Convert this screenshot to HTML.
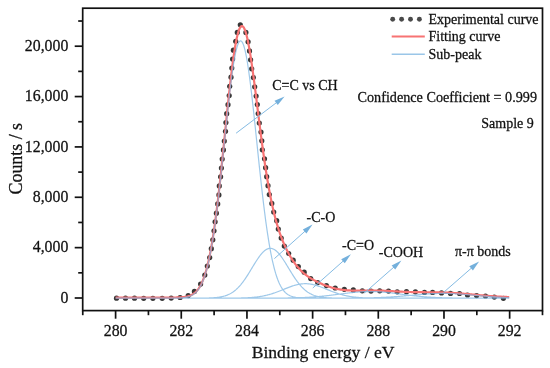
<!DOCTYPE html>
<html><head><meta charset="utf-8"><title>XPS C1s</title><style>html,body{margin:0;padding:0;background:#fff;width:550px;height:368px;overflow:hidden}</style></head><body>
<svg width="550" height="368" viewBox="0 0 550 368" style="display:block">
<rect width="550" height="368" fill="#fff"/>
<g fill="#383838"><circle cx="116.5" cy="298.2" r="2.6"/><circle cx="125.5" cy="298.2" r="2.6"/><circle cx="134.5" cy="298.2" r="2.6"/><circle cx="143.7" cy="298.3" r="2.6"/><circle cx="152.9" cy="298.3" r="2.6"/><circle cx="162.2" cy="298.3" r="2.6"/><circle cx="171.2" cy="298.1" r="2.6"/><circle cx="180.1" cy="297.5" r="2.6"/><circle cx="188.2" cy="295.6" r="2.6"/><circle cx="194.4" cy="291.4" r="2.6"/><circle cx="200.6" cy="284.1" r="2.6"/><circle cx="204.8" cy="275.1" r="2.6"/><circle cx="207.3" cy="266.1" r="2.6"/><circle cx="209.7" cy="257.6" r="2.6"/><circle cx="211.3" cy="248.7" r="2.6"/><circle cx="212.8" cy="239.8" r="2.6"/><circle cx="214" cy="230.8" r="2.6"/><circle cx="215.1" cy="221.8" r="2.6"/><circle cx="216.4" cy="213.2" r="2.6"/><circle cx="217.7" cy="203.9" r="2.6"/><circle cx="218.9" cy="194.9" r="2.6"/><circle cx="219.3" cy="185.9" r="2.6"/><circle cx="220.6" cy="176.8" r="2.6"/><circle cx="221.4" cy="168" r="2.6"/><circle cx="222.2" cy="159" r="2.6"/><circle cx="223.4" cy="149.9" r="2.6"/><circle cx="224.3" cy="141.1" r="2.6"/><circle cx="225.5" cy="131.3" r="2.6"/><circle cx="225.9" cy="122.5" r="2.6"/><circle cx="226.7" cy="113.7" r="2.6"/><circle cx="228" cy="104.7" r="2.6"/><circle cx="229.2" cy="95.6" r="2.6"/><circle cx="229.7" cy="86.3" r="2.6"/><circle cx="231" cy="77.2" r="2.6"/><circle cx="231.8" cy="68.1" r="2.6"/><circle cx="232.6" cy="59.1" r="2.6"/><circle cx="233.4" cy="50.2" r="2.6"/><circle cx="235.7" cy="41.3" r="2.6"/><circle cx="237.3" cy="32.4" r="2.6"/><circle cx="240.3" cy="24.8" r="2.6"/><circle cx="245.9" cy="32.4" r="2.6"/><circle cx="248.1" cy="41.8" r="2.6"/><circle cx="249.5" cy="50.9" r="2.6"/><circle cx="250.6" cy="59.8" r="2.6"/><circle cx="251.7" cy="68.8" r="2.6"/><circle cx="253.4" cy="77.6" r="2.6"/><circle cx="254.7" cy="86.8" r="2.6"/><circle cx="256.1" cy="96.1" r="2.6"/><circle cx="257.3" cy="104.6" r="2.6"/><circle cx="258.2" cy="113.5" r="2.6"/><circle cx="259.3" cy="123" r="2.6"/><circle cx="261" cy="132" r="2.6"/><circle cx="261.8" cy="140.8" r="2.6"/><circle cx="262.3" cy="149.8" r="2.6"/><circle cx="264.5" cy="158.8" r="2.6"/><circle cx="265.6" cy="167.7" r="2.6"/><circle cx="266.7" cy="176.7" r="2.6"/><circle cx="268" cy="185.7" r="2.6"/><circle cx="269.3" cy="194.6" r="2.6"/><circle cx="271.8" cy="203.4" r="2.6"/><circle cx="273.7" cy="212" r="2.6"/><circle cx="276.7" cy="220.7" r="2.6"/><circle cx="278.3" cy="229.1" r="2.6"/><circle cx="281.2" cy="238.1" r="2.6"/><circle cx="284.3" cy="246.1" r="2.6"/><circle cx="288.7" cy="253.5" r="2.6"/><circle cx="293.2" cy="260.2" r="2.6"/><circle cx="298.3" cy="266.6" r="2.6"/><circle cx="304.2" cy="272.2" r="2.6"/><circle cx="310.7" cy="278.6" r="2.6"/><circle cx="317.7" cy="282.6" r="2.6"/><circle cx="326.4" cy="285.6" r="2.6"/><circle cx="335.2" cy="288" r="2.6"/><circle cx="344.3" cy="289.3" r="2.6"/><circle cx="353.3" cy="289.9" r="2.6"/><circle cx="362.3" cy="290.8" r="2.6"/><circle cx="371" cy="291.1" r="2.6"/><circle cx="379.7" cy="290.8" r="2.6"/><circle cx="388.5" cy="291.1" r="2.6"/><circle cx="397.2" cy="291.8" r="2.6"/><circle cx="406.5" cy="291.7" r="2.6"/><circle cx="415.4" cy="291.8" r="2.6"/><circle cx="424.5" cy="292.4" r="2.6"/><circle cx="432.6" cy="292.4" r="2.6"/><circle cx="441.5" cy="292.9" r="2.6"/><circle cx="450.5" cy="293.4" r="2.6"/><circle cx="459.5" cy="293.5" r="2.6"/><circle cx="467.5" cy="295" r="2.6"/><circle cx="476.6" cy="295.6" r="2.6"/><circle cx="485.5" cy="296" r="2.6"/><circle cx="494.3" cy="297.1" r="2.6"/><circle cx="503.4" cy="298.3" r="2.6"/></g>
<path d="M115.60,297.57 L116.26,297.57 L116.91,297.57 L117.57,297.57 L118.22,297.57 L118.88,297.57 L119.54,297.57 L120.19,297.57 L120.85,297.57 L121.50,297.57 L122.16,297.57 L122.82,297.57 L123.47,297.57 L124.13,297.57 L124.78,297.57 L125.44,297.57 L126.10,297.57 L126.75,297.57 L127.41,297.57 L128.06,297.57 L128.72,297.57 L129.38,297.57 L130.03,297.57 L130.69,297.57 L131.34,297.57 L132.00,297.57 L132.66,297.57 L133.31,297.57 L133.97,297.57 L134.62,297.57 L135.28,297.57 L135.94,297.57 L136.59,297.57 L137.25,297.57 L137.90,297.57 L138.56,297.57 L139.22,297.57 L139.87,297.57 L140.53,297.57 L141.18,297.57 L141.84,297.57 L142.50,297.57 L143.15,297.57 L143.81,297.57 L144.46,297.57 L145.12,297.57 L145.78,297.57 L146.43,297.57 L147.09,297.57 L147.74,297.57 L148.40,297.57 L149.06,297.57 L149.71,297.57 L150.37,297.57 L151.02,297.57 L151.68,297.57 L152.34,297.57 L152.99,297.57 L153.65,297.57 L154.30,297.57 L154.96,297.57 L155.62,297.57 L156.27,297.57 L156.93,297.57 L157.58,297.57 L158.24,297.56 L158.90,297.56 L159.55,297.56 L160.21,297.56 L160.86,297.56 L161.52,297.56 L162.18,297.56 L162.83,297.56 L163.49,297.56 L164.14,297.56 L164.80,297.56 L165.46,297.56 L166.11,297.56 L166.77,297.56 L167.42,297.56 L168.08,297.55 L168.74,297.55 L169.39,297.55 L170.05,297.55 L170.70,297.54 L171.36,297.54 L172.02,297.53 L172.67,297.53 L173.33,297.52 L173.98,297.51 L174.64,297.50 L175.30,297.49 L175.95,297.48 L176.61,297.46 L177.26,297.44 L177.92,297.42 L178.58,297.40 L179.23,297.37 L179.89,297.34 L180.54,297.30 L181.20,297.25 L181.86,297.21 L182.51,297.15 L183.17,297.08 L183.82,297.01 L184.48,296.93 L185.14,296.83 L185.79,296.72 L186.45,296.60 L187.10,296.46 L187.76,296.30 L188.42,296.12 L189.07,295.93 L189.73,295.70 L190.38,295.45 L191.04,295.17 L191.70,294.86 L192.35,294.51 L193.01,294.12 L193.66,293.68 L194.32,293.20 L194.98,292.67 L195.63,292.09 L196.29,291.44 L196.94,290.73 L197.60,289.94 L198.26,289.08 L198.91,288.14 L199.57,287.12 L200.22,286.00 L200.88,284.78 L201.54,283.46 L202.19,282.02 L202.85,280.47 L203.50,278.79 L204.16,276.98 L204.82,275.03 L205.47,272.94 L206.13,270.70 L206.78,268.30 L207.44,265.74 L208.10,263.01 L208.75,260.12 L209.41,257.04 L210.06,253.78 L210.72,250.34 L211.38,246.71 L212.03,242.89 L212.69,238.87 L213.34,234.67 L214.00,230.27 L214.66,225.69 L215.31,220.91 L215.97,215.95 L216.62,210.81 L217.28,205.50 L217.94,200.02 L218.59,194.38 L219.25,188.59 L219.90,182.66 L220.56,176.60 L221.22,170.43 L221.87,164.16 L222.53,157.80 L223.18,151.38 L223.84,144.91 L224.50,138.41 L225.15,131.89 L225.81,125.38 L226.46,118.91 L227.12,112.48 L227.78,106.13 L228.43,99.88 L229.09,93.74 L229.74,87.74 L230.40,81.91 L231.06,76.27 L231.71,70.83 L232.37,65.62 L233.02,60.66 L233.68,55.97 L234.34,51.57 L234.99,47.47 L235.65,43.70 L236.30,40.26 L236.96,37.17 L237.62,34.45 L238.27,32.09 L238.93,30.11 L239.58,28.52 L240.24,27.32 L240.90,26.51 L241.55,26.09 L242.21,26.06 L242.86,26.42 L243.52,27.16 L244.18,28.27 L244.83,29.75 L245.49,31.59 L246.14,33.76 L246.80,36.27 L247.46,39.09 L248.11,42.21 L248.77,45.61 L249.42,49.27 L250.08,53.17 L250.74,57.30 L251.39,61.62 L252.05,66.14 L252.70,70.81 L253.36,75.62 L254.02,80.55 L254.67,85.59 L255.33,90.70 L255.98,95.87 L256.64,101.08 L257.30,106.32 L257.95,111.56 L258.61,116.79 L259.26,121.99 L259.92,127.15 L260.58,132.25 L261.23,137.29 L261.89,142.25 L262.54,147.12 L263.20,151.89 L263.86,156.56 L264.51,161.11 L265.17,165.55 L265.82,169.87 L266.48,174.05 L267.14,178.12 L267.79,182.05 L268.45,185.85 L269.10,189.52 L269.76,193.06 L270.42,196.47 L271.07,199.75 L271.73,202.91 L272.38,205.95 L273.04,208.87 L273.70,211.68 L274.35,214.38 L275.01,216.97 L275.66,219.46 L276.32,221.85 L276.98,224.14 L277.63,226.35 L278.29,228.47 L278.94,230.51 L279.60,232.48 L280.26,234.37 L280.91,236.19 L281.57,237.95 L282.22,239.64 L282.88,241.27 L283.54,242.85 L284.19,244.38 L284.85,245.85 L285.50,247.28 L286.16,248.66 L286.82,250.00 L287.47,251.29 L288.13,252.55 L288.78,253.77 L289.44,254.94 L290.10,256.09 L290.75,257.19 L291.41,258.27 L292.06,259.31 L292.72,260.32 L293.38,261.29 L294.03,262.24 L294.69,263.16 L295.34,264.05 L296.00,264.91 L296.66,265.74 L297.31,266.55 L297.97,267.33 L298.62,268.08 L299.28,268.81 L299.94,269.51 L300.59,270.20 L301.25,270.85 L301.90,271.49 L302.56,272.11 L303.22,272.70 L303.87,273.28 L304.53,273.83 L305.18,274.37 L305.84,274.89 L306.50,275.39 L307.15,275.88 L307.81,276.35 L308.46,276.81 L309.12,277.26 L309.78,277.69 L310.43,278.11 L311.09,278.51 L311.74,278.91 L312.40,279.29 L313.06,279.67 L313.71,280.04 L314.37,280.39 L315.02,280.74 L315.68,281.08 L316.34,281.42 L316.99,281.74 L317.65,282.06 L318.30,282.38 L318.96,282.68 L319.62,282.99 L320.27,283.28 L320.93,283.57 L321.58,283.85 L322.24,284.13 L322.90,284.40 L323.55,284.67 L324.21,284.93 L324.86,285.19 L325.52,285.44 L326.18,285.69 L326.83,285.93 L327.49,286.16 L328.14,286.39 L328.80,286.61 L329.46,286.83 L330.11,287.04 L330.77,287.24 L331.42,287.44 L332.08,287.64 L332.74,287.82 L333.39,288.00 L334.05,288.18 L334.70,288.34 L335.36,288.50 L336.02,288.66 L336.67,288.80 L337.33,288.95 L337.98,289.08 L338.64,289.21 L339.30,289.33 L339.95,289.44 L340.61,289.55 L341.26,289.65 L341.92,289.75 L342.58,289.84 L343.23,289.92 L343.89,290.00 L344.54,290.07 L345.20,290.14 L345.86,290.20 L346.51,290.25 L347.17,290.30 L347.82,290.35 L348.48,290.39 L349.14,290.43 L349.79,290.46 L350.45,290.49 L351.10,290.51 L351.76,290.53 L352.42,290.55 L353.07,290.56 L353.73,290.57 L354.38,290.58 L355.04,290.58 L355.70,290.59 L356.35,290.59 L357.01,290.59 L357.66,290.58 L358.32,290.58 L358.98,290.58 L359.63,290.57 L360.29,290.56 L360.94,290.55 L361.60,290.54 L362.26,290.54 L362.91,290.53 L363.57,290.52 L364.22,290.51 L364.88,290.50 L365.54,290.49 L366.19,290.49 L366.85,290.48 L367.50,290.47 L368.16,290.47 L368.82,290.46 L369.47,290.46 L370.13,290.46 L370.78,290.46 L371.44,290.46 L372.10,290.46 L372.75,290.47 L373.41,290.47 L374.06,290.48 L374.72,290.48 L375.38,290.49 L376.03,290.51 L376.69,290.52 L377.34,290.53 L378.00,290.55 L378.66,290.56 L379.31,290.58 L379.97,290.60 L380.62,290.62 L381.28,290.65 L381.94,290.67 L382.59,290.69 L383.25,290.72 L383.90,290.75 L384.56,290.78 L385.22,290.81 L385.87,290.84 L386.53,290.87 L387.18,290.90 L387.84,290.93 L388.50,290.97 L389.15,291.00 L389.81,291.04 L390.46,291.07 L391.12,291.11 L391.78,291.14 L392.43,291.18 L393.09,291.22 L393.74,291.25 L394.40,291.29 L395.06,291.32 L395.71,291.36 L396.37,291.40 L397.02,291.43 L397.68,291.47 L398.34,291.50 L398.99,291.54 L399.65,291.57 L400.30,291.60 L400.96,291.64 L401.62,291.67 L402.27,291.70 L402.93,291.73 L403.58,291.76 L404.24,291.79 L404.90,291.82 L405.55,291.84 L406.21,291.87 L406.86,291.89 L407.52,291.92 L408.18,291.94 L408.83,291.96 L409.49,291.98 L410.14,292.00 L410.80,292.02 L411.46,292.04 L412.11,292.06 L412.77,292.07 L413.42,292.09 L414.08,292.10 L414.74,292.12 L415.39,292.13 L416.05,292.14 L416.70,292.15 L417.36,292.16 L418.02,292.17 L418.67,292.18 L419.33,292.18 L419.98,292.19 L420.64,292.20 L421.30,292.20 L421.95,292.21 L422.61,292.21 L423.26,292.22 L423.92,292.22 L424.58,292.22 L425.23,292.23 L425.89,292.23 L426.54,292.23 L427.20,292.24 L427.86,292.24 L428.51,292.24 L429.17,292.25 L429.82,292.25 L430.48,292.25 L431.14,292.26 L431.79,292.26 L432.45,292.27 L433.10,292.27 L433.76,292.28 L434.42,292.29 L435.07,292.29 L435.73,292.30 L436.38,292.31 L437.04,292.32 L437.70,292.33 L438.35,292.34 L439.01,292.36 L439.66,292.37 L440.32,292.39 L440.98,292.40 L441.63,292.42 L442.29,292.44 L442.94,292.46 L443.60,292.48 L444.26,292.50 L444.91,292.52 L445.57,292.55 L446.22,292.57 L446.88,292.60 L447.54,292.63 L448.19,292.66 L448.85,292.69 L449.50,292.72 L450.16,292.75 L450.82,292.79 L451.47,292.82 L452.13,292.86 L452.78,292.90 L453.44,292.94 L454.10,292.98 L454.75,293.02 L455.41,293.07 L456.06,293.11 L456.72,293.16 L457.38,293.20 L458.03,293.25 L458.69,293.30 L459.34,293.35 L460.00,293.40 L460.66,293.45 L461.31,293.51 L461.97,293.56 L462.62,293.62 L463.28,293.67 L463.94,293.73 L464.59,293.78 L465.25,293.84 L465.90,293.90 L466.56,293.96 L467.22,294.02 L467.87,294.08 L468.53,294.14 L469.18,294.20 L469.84,294.26 L470.50,294.32 L471.15,294.38 L471.81,294.44 L472.46,294.50 L473.12,294.56 L473.78,294.62 L474.43,294.69 L475.09,294.75 L475.74,294.81 L476.40,294.87 L477.06,294.93 L477.71,294.99 L478.37,295.05 L479.02,295.11 L479.68,295.17 L480.34,295.23 L480.99,295.28 L481.65,295.34 L482.30,295.40 L482.96,295.46 L483.62,295.51 L484.27,295.57 L484.93,295.62 L485.58,295.68 L486.24,295.73 L486.90,295.78 L487.55,295.83 L488.21,295.88 L488.86,295.93 L489.52,295.98 L490.18,296.03 L490.83,296.08 L491.49,296.13 L492.14,296.17 L492.80,296.22 L493.46,296.26 L494.11,296.31 L494.77,296.35 L495.42,296.39 L496.08,296.43 L496.74,296.47 L497.39,296.51 L498.05,296.55 L498.70,296.58 L499.36,296.62 L500.02,296.65 L500.67,296.69 L501.33,296.72 L501.98,296.75 L502.64,296.78 L503.30,296.82 L503.95,296.84 L504.61,296.87 L505.26,296.90 L505.92,296.93 L506.58,296.95 L507.23,296.98 L507.89,297.00 L508.54,297.03 L509.20,297.05" fill="none" stroke="#f77373" stroke-width="2.2" stroke-linejoin="round"/>
<path d="M115.60,298.15 L116.26,298.15 L116.91,298.15 L117.57,298.15 L118.22,298.15 L118.88,298.15 L119.54,298.15 L120.19,298.15 L120.85,298.15 L121.50,298.15 L122.16,298.15 L122.82,298.15 L123.47,298.15 L124.13,298.15 L124.78,298.15 L125.44,298.15 L126.10,298.15 L126.75,298.15 L127.41,298.15 L128.06,298.15 L128.72,298.15 L129.38,298.15 L130.03,298.15 L130.69,298.15 L131.34,298.15 L132.00,298.15 L132.66,298.15 L133.31,298.15 L133.97,298.15 L134.62,298.15 L135.28,298.15 L135.94,298.15 L136.59,298.15 L137.25,298.15 L137.90,298.15 L138.56,298.15 L139.22,298.15 L139.87,298.15 L140.53,298.15 L141.18,298.15 L141.84,298.15 L142.50,298.15 L143.15,298.15 L143.81,298.15 L144.46,298.15 L145.12,298.15 L145.78,298.15 L146.43,298.15 L147.09,298.15 L147.74,298.15 L148.40,298.15 L149.06,298.15 L149.71,298.15 L150.37,298.15 L151.02,298.15 L151.68,298.15 L152.34,298.15 L152.99,298.15 L153.65,298.15 L154.30,298.15 L154.96,298.15 L155.62,298.15 L156.27,298.15 L156.93,298.15 L157.58,298.15 L158.24,298.15 L158.90,298.15 L159.55,298.15 L160.21,298.15 L160.86,298.15 L161.52,298.15 L162.18,298.15 L162.83,298.15 L163.49,298.15 L164.14,298.15 L164.80,298.15 L165.46,298.14 L166.11,298.14 L166.77,298.14 L167.42,298.14 L168.08,298.14 L168.74,298.14 L169.39,298.13 L170.05,298.13 L170.70,298.13 L171.36,298.12 L172.02,298.12 L172.67,298.11 L173.33,298.10 L173.98,298.10 L174.64,298.09 L175.30,298.07 L175.95,298.06 L176.61,298.04 L177.26,298.03 L177.92,298.01 L178.58,297.98 L179.23,297.95 L179.89,297.92 L180.54,297.88 L181.20,297.84 L181.86,297.79 L182.51,297.73 L183.17,297.67 L183.82,297.60 L184.48,297.51 L185.14,297.42 L185.79,297.31 L186.45,297.18 L187.10,297.04 L187.76,296.89 L188.42,296.71 L189.07,296.51 L189.73,296.29 L190.38,296.04 L191.04,295.76 L191.70,295.44 L192.35,295.09 L193.01,294.71 L193.66,294.27 L194.32,293.80 L194.98,293.27 L195.63,292.68 L196.29,292.04 L196.94,291.33 L197.60,290.55 L198.26,289.69 L198.91,288.75 L199.57,287.73 L200.22,286.61 L200.88,285.40 L201.54,284.08 L202.19,282.65 L202.85,281.10 L203.50,279.43 L204.16,277.63 L204.82,275.70 L205.47,273.62 L206.13,271.39 L206.78,269.00 L207.44,266.46 L208.10,263.75 L208.75,260.87 L209.41,257.81 L210.06,254.58 L210.72,251.16 L211.38,247.56 L212.03,243.78 L212.69,239.80 L213.34,235.64 L214.00,231.29 L214.66,226.75 L215.31,222.03 L215.97,217.13 L216.62,212.06 L217.28,206.82 L217.94,201.42 L218.59,195.87 L219.25,190.17 L219.90,184.35 L220.56,178.41 L221.22,172.36 L221.87,166.23 L222.53,160.02 L223.18,153.76 L223.84,147.46 L224.50,141.14 L225.15,134.83 L225.81,128.54 L226.46,122.30 L227.12,116.13 L227.78,110.04 L228.43,104.08 L229.09,98.25 L229.74,92.58 L230.40,87.11 L231.06,81.83 L231.71,76.79 L232.37,72.01 L233.02,67.50 L233.68,63.28 L234.34,59.38 L234.99,55.81 L235.65,52.59 L236.30,49.74 L236.96,47.26 L237.62,45.18 L238.27,43.49 L238.93,42.22 L239.58,41.36 L240.24,40.91 L240.90,40.89 L241.55,41.29 L242.21,42.11 L242.86,43.35 L243.52,44.99 L244.18,47.04 L244.83,49.48 L245.49,52.29 L246.14,55.48 L246.80,59.01 L247.46,62.88 L248.11,67.06 L248.77,71.55 L249.42,76.30 L250.08,81.32 L250.74,86.57 L251.39,92.03 L252.05,97.68 L252.70,103.49 L253.36,109.44 L254.02,115.51 L254.67,121.68 L255.33,127.91 L255.98,134.20 L256.64,140.51 L257.30,146.83 L257.95,153.13 L258.61,159.40 L259.26,165.61 L259.92,171.75 L260.58,177.81 L261.23,183.76 L261.89,189.60 L262.54,195.30 L263.20,200.87 L263.86,206.29 L264.51,211.54 L265.17,216.63 L265.82,221.55 L266.48,226.29 L267.14,230.84 L267.79,235.21 L268.45,239.39 L269.10,243.39 L269.76,247.19 L270.42,250.81 L271.07,254.25 L271.73,257.50 L272.38,260.57 L273.04,263.47 L273.70,266.20 L274.35,268.76 L275.01,271.15 L275.66,273.40 L276.32,275.49 L276.98,277.45 L277.63,279.26 L278.29,280.94 L278.94,282.50 L279.60,283.94 L280.26,285.27 L280.91,286.50 L281.57,287.62 L282.22,288.65 L282.88,289.60 L283.54,290.46 L284.19,291.25 L284.85,291.97 L285.50,292.62 L286.16,293.21 L286.82,293.75 L287.47,294.23 L288.13,294.67 L288.78,295.06 L289.44,295.41 L290.10,295.73 L290.75,296.01 L291.41,296.26 L292.06,296.49 L292.72,296.69 L293.38,296.87 L294.03,297.03 L294.69,297.17 L295.34,297.30 L296.00,297.41 L296.66,297.50 L297.31,297.59 L297.97,297.66 L298.62,297.73 L299.28,297.78 L299.94,297.83 L300.59,297.88 L301.25,297.92 L301.90,297.95 L302.56,297.98 L303.22,298.00 L303.87,298.02 L304.53,298.04 L305.18,298.06 L305.84,298.07 L306.50,298.08 L307.15,298.09 L307.81,298.10 L308.46,298.11 L309.12,298.12 L309.78,298.12 L310.43,298.13 L311.09,298.13 L311.74,298.13 L312.40,298.14 L313.06,298.14 L313.71,298.14 L314.37,298.14 L315.02,298.14 L315.68,298.14 L316.34,298.15 L316.99,298.15 L317.65,298.15 L318.30,298.15 L318.96,298.15 L319.62,298.15 L320.27,298.15 L320.93,298.15 L321.58,298.15 L322.24,298.15 L322.90,298.15 L323.55,298.15 L324.21,298.15 L324.86,298.15 L325.52,298.15 L326.18,298.15 L326.83,298.15 L327.49,298.15 L328.14,298.15 L328.80,298.15 L329.46,298.15 L330.11,298.15 L330.77,298.15 L331.42,298.15 L332.08,298.15 L332.74,298.15 L333.39,298.15 L334.05,298.15 L334.70,298.15 L335.36,298.15 L336.02,298.15 L336.67,298.15 L337.33,298.15 L337.98,298.15 L338.64,298.15 L339.30,298.15 L339.95,298.15 L340.61,298.15 L341.26,298.15 L341.92,298.15 L342.58,298.15 L343.23,298.15 L343.89,298.15 L344.54,298.15 L345.20,298.15 L345.86,298.15 L346.51,298.15 L347.17,298.15 L347.82,298.15 L348.48,298.15 L349.14,298.15 L349.79,298.15 L350.45,298.15 L351.10,298.15 L351.76,298.15 L352.42,298.15 L353.07,298.15 L353.73,298.15 L354.38,298.15 L355.04,298.15 L355.70,298.15 L356.35,298.15 L357.01,298.15 L357.66,298.15 L358.32,298.15 L358.98,298.15 L359.63,298.15 L360.29,298.15 L360.94,298.15 L361.60,298.15 L362.26,298.15 L362.91,298.15 L363.57,298.15 L364.22,298.15 L364.88,298.15 L365.54,298.15 L366.19,298.15 L366.85,298.15 L367.50,298.15 L368.16,298.15 L368.82,298.15 L369.47,298.15 L370.13,298.15 L370.78,298.15 L371.44,298.15 L372.10,298.15 L372.75,298.15 L373.41,298.15 L374.06,298.15 L374.72,298.15 L375.38,298.15 L376.03,298.15 L376.69,298.15 L377.34,298.15 L378.00,298.15 L378.66,298.15 L379.31,298.15 L379.97,298.15 L380.62,298.15 L381.28,298.15 L381.94,298.15 L382.59,298.15 L383.25,298.15 L383.90,298.15 L384.56,298.15 L385.22,298.15 L385.87,298.15 L386.53,298.15 L387.18,298.15 L387.84,298.15 L388.50,298.15 L389.15,298.15 L389.81,298.15 L390.46,298.15 L391.12,298.15 L391.78,298.15 L392.43,298.15 L393.09,298.15 L393.74,298.15 L394.40,298.15 L395.06,298.15 L395.71,298.15 L396.37,298.15 L397.02,298.15 L397.68,298.15 L398.34,298.15 L398.99,298.15 L399.65,298.15 L400.30,298.15 L400.96,298.15 L401.62,298.15 L402.27,298.15 L402.93,298.15 L403.58,298.15 L404.24,298.15 L404.90,298.15 L405.55,298.15 L406.21,298.15 L406.86,298.15 L407.52,298.15 L408.18,298.15 L408.83,298.15 L409.49,298.15 L410.14,298.15 L410.80,298.15 L411.46,298.15 L412.11,298.15 L412.77,298.15 L413.42,298.15 L414.08,298.15 L414.74,298.15 L415.39,298.15 L416.05,298.15 L416.70,298.15 L417.36,298.15 L418.02,298.15 L418.67,298.15 L419.33,298.15 L419.98,298.15 L420.64,298.15 L421.30,298.15 L421.95,298.15 L422.61,298.15 L423.26,298.15 L423.92,298.15 L424.58,298.15 L425.23,298.15 L425.89,298.15 L426.54,298.15 L427.20,298.15 L427.86,298.15 L428.51,298.15 L429.17,298.15 L429.82,298.15 L430.48,298.15 L431.14,298.15 L431.79,298.15 L432.45,298.15 L433.10,298.15 L433.76,298.15 L434.42,298.15 L435.07,298.15 L435.73,298.15 L436.38,298.15 L437.04,298.15 L437.70,298.15 L438.35,298.15 L439.01,298.15 L439.66,298.15 L440.32,298.15 L440.98,298.15 L441.63,298.15 L442.29,298.15 L442.94,298.15 L443.60,298.15 L444.26,298.15 L444.91,298.15 L445.57,298.15 L446.22,298.15 L446.88,298.15 L447.54,298.15 L448.19,298.15 L448.85,298.15 L449.50,298.15 L450.16,298.15 L450.82,298.15 L451.47,298.15 L452.13,298.15 L452.78,298.15 L453.44,298.15 L454.10,298.15 L454.75,298.15 L455.41,298.15 L456.06,298.15 L456.72,298.15 L457.38,298.15 L458.03,298.15 L458.69,298.15 L459.34,298.15 L460.00,298.15 L460.66,298.15 L461.31,298.15 L461.97,298.15 L462.62,298.15 L463.28,298.15 L463.94,298.15 L464.59,298.15 L465.25,298.15 L465.90,298.15 L466.56,298.15 L467.22,298.15 L467.87,298.15 L468.53,298.15 L469.18,298.15 L469.84,298.15 L470.50,298.15 L471.15,298.15 L471.81,298.15 L472.46,298.15 L473.12,298.15 L473.78,298.15 L474.43,298.15 L475.09,298.15 L475.74,298.15 L476.40,298.15 L477.06,298.15 L477.71,298.15 L478.37,298.15 L479.02,298.15 L479.68,298.15 L480.34,298.15 L480.99,298.15 L481.65,298.15 L482.30,298.15 L482.96,298.15 L483.62,298.15 L484.27,298.15 L484.93,298.15 L485.58,298.15 L486.24,298.15 L486.90,298.15 L487.55,298.15 L488.21,298.15 L488.86,298.15 L489.52,298.15 L490.18,298.15 L490.83,298.15 L491.49,298.15 L492.14,298.15 L492.80,298.15 L493.46,298.15 L494.11,298.15 L494.77,298.15 L495.42,298.15 L496.08,298.15 L496.74,298.15 L497.39,298.15 L498.05,298.15 L498.70,298.15 L499.36,298.15 L500.02,298.15 L500.67,298.15 L501.33,298.15 L501.98,298.15 L502.64,298.15 L503.30,298.15 L503.95,298.15 L504.61,298.15 L505.26,298.15 L505.92,298.15 L506.58,298.15 L507.23,298.15 L507.89,298.15 L508.54,298.15 L509.20,298.15 M115.60,298.15 L116.26,298.15 L116.91,298.15 L117.57,298.15 L118.22,298.15 L118.88,298.15 L119.54,298.15 L120.19,298.15 L120.85,298.15 L121.50,298.15 L122.16,298.15 L122.82,298.15 L123.47,298.15 L124.13,298.15 L124.78,298.15 L125.44,298.15 L126.10,298.15 L126.75,298.15 L127.41,298.15 L128.06,298.15 L128.72,298.15 L129.38,298.15 L130.03,298.15 L130.69,298.15 L131.34,298.15 L132.00,298.15 L132.66,298.15 L133.31,298.15 L133.97,298.15 L134.62,298.15 L135.28,298.15 L135.94,298.15 L136.59,298.15 L137.25,298.15 L137.90,298.15 L138.56,298.15 L139.22,298.15 L139.87,298.15 L140.53,298.15 L141.18,298.15 L141.84,298.15 L142.50,298.15 L143.15,298.15 L143.81,298.15 L144.46,298.15 L145.12,298.15 L145.78,298.15 L146.43,298.15 L147.09,298.15 L147.74,298.15 L148.40,298.15 L149.06,298.15 L149.71,298.15 L150.37,298.15 L151.02,298.15 L151.68,298.15 L152.34,298.15 L152.99,298.15 L153.65,298.15 L154.30,298.15 L154.96,298.15 L155.62,298.15 L156.27,298.15 L156.93,298.15 L157.58,298.15 L158.24,298.15 L158.90,298.15 L159.55,298.15 L160.21,298.15 L160.86,298.15 L161.52,298.15 L162.18,298.15 L162.83,298.15 L163.49,298.15 L164.14,298.15 L164.80,298.15 L165.46,298.15 L166.11,298.15 L166.77,298.15 L167.42,298.15 L168.08,298.15 L168.74,298.15 L169.39,298.15 L170.05,298.15 L170.70,298.15 L171.36,298.15 L172.02,298.15 L172.67,298.15 L173.33,298.15 L173.98,298.15 L174.64,298.15 L175.30,298.15 L175.95,298.15 L176.61,298.15 L177.26,298.15 L177.92,298.15 L178.58,298.15 L179.23,298.15 L179.89,298.15 L180.54,298.15 L181.20,298.15 L181.86,298.15 L182.51,298.15 L183.17,298.15 L183.82,298.15 L184.48,298.15 L185.14,298.15 L185.79,298.15 L186.45,298.15 L187.10,298.15 L187.76,298.15 L188.42,298.15 L189.07,298.15 L189.73,298.15 L190.38,298.15 L191.04,298.15 L191.70,298.15 L192.35,298.14 L193.01,298.14 L193.66,298.14 L194.32,298.14 L194.98,298.14 L195.63,298.14 L196.29,298.14 L196.94,298.13 L197.60,298.13 L198.26,298.13 L198.91,298.13 L199.57,298.12 L200.22,298.12 L200.88,298.11 L201.54,298.11 L202.19,298.10 L202.85,298.10 L203.50,298.09 L204.16,298.08 L204.82,298.07 L205.47,298.06 L206.13,298.05 L206.78,298.03 L207.44,298.02 L208.10,298.00 L208.75,297.98 L209.41,297.96 L210.06,297.94 L210.72,297.91 L211.38,297.88 L212.03,297.85 L212.69,297.81 L213.34,297.77 L214.00,297.72 L214.66,297.67 L215.31,297.62 L215.97,297.56 L216.62,297.49 L217.28,297.42 L217.94,297.34 L218.59,297.25 L219.25,297.15 L219.90,297.05 L220.56,296.93 L221.22,296.81 L221.87,296.67 L222.53,296.53 L223.18,296.37 L223.84,296.20 L224.50,296.01 L225.15,295.81 L225.81,295.59 L226.46,295.36 L227.12,295.11 L227.78,294.84 L228.43,294.56 L229.09,294.25 L229.74,293.93 L230.40,293.58 L231.06,293.21 L231.71,292.81 L232.37,292.39 L233.02,291.95 L233.68,291.48 L234.34,290.99 L234.99,290.47 L235.65,289.92 L236.30,289.35 L236.96,288.74 L237.62,288.11 L238.27,287.45 L238.93,286.76 L239.58,286.04 L240.24,285.29 L240.90,284.52 L241.55,283.72 L242.21,282.89 L242.86,282.03 L243.52,281.14 L244.18,280.23 L244.83,279.30 L245.49,278.35 L246.14,277.37 L246.80,276.37 L247.46,275.35 L248.11,274.32 L248.77,273.27 L249.42,272.21 L250.08,271.14 L250.74,270.06 L251.39,268.98 L252.05,267.89 L252.70,266.81 L253.36,265.73 L254.02,264.65 L254.67,263.58 L255.33,262.53 L255.98,261.48 L256.64,260.46 L257.30,259.46 L257.95,258.49 L258.61,257.54 L259.26,256.62 L259.92,255.74 L260.58,254.89 L261.23,254.09 L261.89,253.33 L262.54,252.61 L263.20,251.94 L263.86,251.33 L264.51,250.76 L265.17,250.25 L265.82,249.80 L266.48,249.41 L267.14,249.08 L267.79,248.81 L268.45,248.60 L269.10,248.45 L269.76,248.37 L270.42,248.36 L271.07,248.41 L271.73,248.52 L272.38,248.70 L273.04,248.93 L273.70,249.24 L274.35,249.60 L275.01,250.02 L275.66,250.50 L276.32,251.04 L276.98,251.63 L277.63,252.27 L278.29,252.96 L278.94,253.70 L279.60,254.49 L280.26,255.31 L280.91,256.18 L281.57,257.08 L282.22,258.01 L282.88,258.97 L283.54,259.96 L284.19,260.97 L284.85,262.00 L285.50,263.05 L286.16,264.11 L286.82,265.19 L287.47,266.27 L288.13,267.35 L288.78,268.44 L289.44,269.52 L290.10,270.60 L290.75,271.68 L291.41,272.74 L292.06,273.80 L292.72,274.84 L293.38,275.86 L294.03,276.87 L294.69,277.86 L295.34,278.83 L296.00,279.77 L296.66,280.69 L297.31,281.59 L297.97,282.46 L298.62,283.30 L299.28,284.12 L299.94,284.91 L300.59,285.67 L301.25,286.40 L301.90,287.11 L302.56,287.78 L303.22,288.43 L303.87,289.05 L304.53,289.64 L305.18,290.20 L305.84,290.73 L306.50,291.24 L307.15,291.72 L307.81,292.18 L308.46,292.61 L309.12,293.01 L309.78,293.39 L310.43,293.75 L311.09,294.09 L311.74,294.41 L312.40,294.70 L313.06,294.98 L313.71,295.24 L314.37,295.48 L315.02,295.70 L315.68,295.91 L316.34,296.11 L316.99,296.28 L317.65,296.45 L318.30,296.60 L318.96,296.74 L319.62,296.87 L320.27,296.99 L320.93,297.10 L321.58,297.20 L322.24,297.29 L322.90,297.38 L323.55,297.45 L324.21,297.52 L324.86,297.59 L325.52,297.65 L326.18,297.70 L326.83,297.75 L327.49,297.79 L328.14,297.83 L328.80,297.86 L329.46,297.89 L330.11,297.92 L330.77,297.95 L331.42,297.97 L332.08,297.99 L332.74,298.01 L333.39,298.03 L334.05,298.04 L334.70,298.05 L335.36,298.06 L336.02,298.08 L336.67,298.08 L337.33,298.09 L337.98,298.10 L338.64,298.11 L339.30,298.11 L339.95,298.12 L340.61,298.12 L341.26,298.12 L341.92,298.13 L342.58,298.13 L343.23,298.13 L343.89,298.14 L344.54,298.14 L345.20,298.14 L345.86,298.14 L346.51,298.14 L347.17,298.14 L347.82,298.14 L348.48,298.14 L349.14,298.15 L349.79,298.15 L350.45,298.15 L351.10,298.15 L351.76,298.15 L352.42,298.15 L353.07,298.15 L353.73,298.15 L354.38,298.15 L355.04,298.15 L355.70,298.15 L356.35,298.15 L357.01,298.15 L357.66,298.15 L358.32,298.15 L358.98,298.15 L359.63,298.15 L360.29,298.15 L360.94,298.15 L361.60,298.15 L362.26,298.15 L362.91,298.15 L363.57,298.15 L364.22,298.15 L364.88,298.15 L365.54,298.15 L366.19,298.15 L366.85,298.15 L367.50,298.15 L368.16,298.15 L368.82,298.15 L369.47,298.15 L370.13,298.15 L370.78,298.15 L371.44,298.15 L372.10,298.15 L372.75,298.15 L373.41,298.15 L374.06,298.15 L374.72,298.15 L375.38,298.15 L376.03,298.15 L376.69,298.15 L377.34,298.15 L378.00,298.15 L378.66,298.15 L379.31,298.15 L379.97,298.15 L380.62,298.15 L381.28,298.15 L381.94,298.15 L382.59,298.15 L383.25,298.15 L383.90,298.15 L384.56,298.15 L385.22,298.15 L385.87,298.15 L386.53,298.15 L387.18,298.15 L387.84,298.15 L388.50,298.15 L389.15,298.15 L389.81,298.15 L390.46,298.15 L391.12,298.15 L391.78,298.15 L392.43,298.15 L393.09,298.15 L393.74,298.15 L394.40,298.15 L395.06,298.15 L395.71,298.15 L396.37,298.15 L397.02,298.15 L397.68,298.15 L398.34,298.15 L398.99,298.15 L399.65,298.15 L400.30,298.15 L400.96,298.15 L401.62,298.15 L402.27,298.15 L402.93,298.15 L403.58,298.15 L404.24,298.15 L404.90,298.15 L405.55,298.15 L406.21,298.15 L406.86,298.15 L407.52,298.15 L408.18,298.15 L408.83,298.15 L409.49,298.15 L410.14,298.15 L410.80,298.15 L411.46,298.15 L412.11,298.15 L412.77,298.15 L413.42,298.15 L414.08,298.15 L414.74,298.15 L415.39,298.15 L416.05,298.15 L416.70,298.15 L417.36,298.15 L418.02,298.15 L418.67,298.15 L419.33,298.15 L419.98,298.15 L420.64,298.15 L421.30,298.15 L421.95,298.15 L422.61,298.15 L423.26,298.15 L423.92,298.15 L424.58,298.15 L425.23,298.15 L425.89,298.15 L426.54,298.15 L427.20,298.15 L427.86,298.15 L428.51,298.15 L429.17,298.15 L429.82,298.15 L430.48,298.15 L431.14,298.15 L431.79,298.15 L432.45,298.15 L433.10,298.15 L433.76,298.15 L434.42,298.15 L435.07,298.15 L435.73,298.15 L436.38,298.15 L437.04,298.15 L437.70,298.15 L438.35,298.15 L439.01,298.15 L439.66,298.15 L440.32,298.15 L440.98,298.15 L441.63,298.15 L442.29,298.15 L442.94,298.15 L443.60,298.15 L444.26,298.15 L444.91,298.15 L445.57,298.15 L446.22,298.15 L446.88,298.15 L447.54,298.15 L448.19,298.15 L448.85,298.15 L449.50,298.15 L450.16,298.15 L450.82,298.15 L451.47,298.15 L452.13,298.15 L452.78,298.15 L453.44,298.15 L454.10,298.15 L454.75,298.15 L455.41,298.15 L456.06,298.15 L456.72,298.15 L457.38,298.15 L458.03,298.15 L458.69,298.15 L459.34,298.15 L460.00,298.15 L460.66,298.15 L461.31,298.15 L461.97,298.15 L462.62,298.15 L463.28,298.15 L463.94,298.15 L464.59,298.15 L465.25,298.15 L465.90,298.15 L466.56,298.15 L467.22,298.15 L467.87,298.15 L468.53,298.15 L469.18,298.15 L469.84,298.15 L470.50,298.15 L471.15,298.15 L471.81,298.15 L472.46,298.15 L473.12,298.15 L473.78,298.15 L474.43,298.15 L475.09,298.15 L475.74,298.15 L476.40,298.15 L477.06,298.15 L477.71,298.15 L478.37,298.15 L479.02,298.15 L479.68,298.15 L480.34,298.15 L480.99,298.15 L481.65,298.15 L482.30,298.15 L482.96,298.15 L483.62,298.15 L484.27,298.15 L484.93,298.15 L485.58,298.15 L486.24,298.15 L486.90,298.15 L487.55,298.15 L488.21,298.15 L488.86,298.15 L489.52,298.15 L490.18,298.15 L490.83,298.15 L491.49,298.15 L492.14,298.15 L492.80,298.15 L493.46,298.15 L494.11,298.15 L494.77,298.15 L495.42,298.15 L496.08,298.15 L496.74,298.15 L497.39,298.15 L498.05,298.15 L498.70,298.15 L499.36,298.15 L500.02,298.15 L500.67,298.15 L501.33,298.15 L501.98,298.15 L502.64,298.15 L503.30,298.15 L503.95,298.15 L504.61,298.15 L505.26,298.15 L505.92,298.15 L506.58,298.15 L507.23,298.15 L507.89,298.15 L508.54,298.15 L509.20,298.15 M115.60,298.15 L116.26,298.15 L116.91,298.15 L117.57,298.15 L118.22,298.15 L118.88,298.15 L119.54,298.15 L120.19,298.15 L120.85,298.15 L121.50,298.15 L122.16,298.15 L122.82,298.15 L123.47,298.15 L124.13,298.15 L124.78,298.15 L125.44,298.15 L126.10,298.15 L126.75,298.15 L127.41,298.15 L128.06,298.15 L128.72,298.15 L129.38,298.15 L130.03,298.15 L130.69,298.15 L131.34,298.15 L132.00,298.15 L132.66,298.15 L133.31,298.15 L133.97,298.15 L134.62,298.15 L135.28,298.15 L135.94,298.15 L136.59,298.15 L137.25,298.15 L137.90,298.15 L138.56,298.15 L139.22,298.15 L139.87,298.15 L140.53,298.15 L141.18,298.15 L141.84,298.15 L142.50,298.15 L143.15,298.15 L143.81,298.15 L144.46,298.15 L145.12,298.15 L145.78,298.15 L146.43,298.15 L147.09,298.15 L147.74,298.15 L148.40,298.15 L149.06,298.15 L149.71,298.15 L150.37,298.15 L151.02,298.15 L151.68,298.15 L152.34,298.15 L152.99,298.15 L153.65,298.15 L154.30,298.15 L154.96,298.15 L155.62,298.15 L156.27,298.15 L156.93,298.15 L157.58,298.15 L158.24,298.15 L158.90,298.15 L159.55,298.15 L160.21,298.15 L160.86,298.15 L161.52,298.15 L162.18,298.15 L162.83,298.15 L163.49,298.15 L164.14,298.15 L164.80,298.15 L165.46,298.15 L166.11,298.15 L166.77,298.15 L167.42,298.15 L168.08,298.15 L168.74,298.15 L169.39,298.15 L170.05,298.15 L170.70,298.15 L171.36,298.15 L172.02,298.15 L172.67,298.15 L173.33,298.15 L173.98,298.15 L174.64,298.15 L175.30,298.15 L175.95,298.15 L176.61,298.15 L177.26,298.15 L177.92,298.15 L178.58,298.15 L179.23,298.15 L179.89,298.15 L180.54,298.15 L181.20,298.15 L181.86,298.15 L182.51,298.15 L183.17,298.15 L183.82,298.15 L184.48,298.15 L185.14,298.15 L185.79,298.15 L186.45,298.15 L187.10,298.15 L187.76,298.15 L188.42,298.15 L189.07,298.15 L189.73,298.15 L190.38,298.15 L191.04,298.15 L191.70,298.15 L192.35,298.15 L193.01,298.15 L193.66,298.15 L194.32,298.15 L194.98,298.15 L195.63,298.15 L196.29,298.15 L196.94,298.15 L197.60,298.15 L198.26,298.15 L198.91,298.15 L199.57,298.15 L200.22,298.15 L200.88,298.15 L201.54,298.15 L202.19,298.15 L202.85,298.15 L203.50,298.15 L204.16,298.15 L204.82,298.15 L205.47,298.15 L206.13,298.15 L206.78,298.15 L207.44,298.15 L208.10,298.15 L208.75,298.15 L209.41,298.15 L210.06,298.15 L210.72,298.15 L211.38,298.15 L212.03,298.15 L212.69,298.15 L213.34,298.15 L214.00,298.15 L214.66,298.15 L215.31,298.15 L215.97,298.15 L216.62,298.15 L217.28,298.15 L217.94,298.15 L218.59,298.15 L219.25,298.14 L219.90,298.14 L220.56,298.14 L221.22,298.14 L221.87,298.14 L222.53,298.14 L223.18,298.14 L223.84,298.14 L224.50,298.14 L225.15,298.14 L225.81,298.13 L226.46,298.13 L227.12,298.13 L227.78,298.13 L228.43,298.12 L229.09,298.12 L229.74,298.12 L230.40,298.11 L231.06,298.11 L231.71,298.11 L232.37,298.10 L233.02,298.10 L233.68,298.09 L234.34,298.08 L234.99,298.08 L235.65,298.07 L236.30,298.06 L236.96,298.05 L237.62,298.04 L238.27,298.03 L238.93,298.02 L239.58,298.01 L240.24,297.99 L240.90,297.98 L241.55,297.96 L242.21,297.95 L242.86,297.93 L243.52,297.91 L244.18,297.88 L244.83,297.86 L245.49,297.84 L246.14,297.81 L246.80,297.78 L247.46,297.75 L248.11,297.71 L248.77,297.68 L249.42,297.64 L250.08,297.60 L250.74,297.55 L251.39,297.50 L252.05,297.45 L252.70,297.40 L253.36,297.34 L254.02,297.28 L254.67,297.22 L255.33,297.15 L255.98,297.08 L256.64,297.00 L257.30,296.92 L257.95,296.84 L258.61,296.75 L259.26,296.65 L259.92,296.55 L260.58,296.45 L261.23,296.34 L261.89,296.22 L262.54,296.10 L263.20,295.98 L263.86,295.85 L264.51,295.71 L265.17,295.57 L265.82,295.42 L266.48,295.26 L267.14,295.10 L267.79,294.94 L268.45,294.77 L269.10,294.59 L269.76,294.40 L270.42,294.21 L271.07,294.02 L271.73,293.82 L272.38,293.61 L273.04,293.40 L273.70,293.18 L274.35,292.96 L275.01,292.73 L275.66,292.50 L276.32,292.26 L276.98,292.02 L277.63,291.77 L278.29,291.52 L278.94,291.27 L279.60,291.01 L280.26,290.76 L280.91,290.50 L281.57,290.23 L282.22,289.97 L282.88,289.70 L283.54,289.44 L284.19,289.17 L284.85,288.91 L285.50,288.64 L286.16,288.38 L286.82,288.12 L287.47,287.86 L288.13,287.60 L288.78,287.35 L289.44,287.10 L290.10,286.86 L290.75,286.62 L291.41,286.39 L292.06,286.16 L292.72,285.94 L293.38,285.73 L294.03,285.53 L294.69,285.33 L295.34,285.15 L296.00,284.97 L296.66,284.80 L297.31,284.65 L297.97,284.50 L298.62,284.37 L299.28,284.24 L299.94,284.13 L300.59,284.03 L301.25,283.95 L301.90,283.87 L302.56,283.81 L303.22,283.76 L303.87,283.73 L304.53,283.71 L305.18,283.70 L305.84,283.70 L306.50,283.72 L307.15,283.75 L307.81,283.79 L308.46,283.85 L309.12,283.92 L309.78,284.01 L310.43,284.10 L311.09,284.21 L311.74,284.33 L312.40,284.46 L313.06,284.60 L313.71,284.75 L314.37,284.92 L315.02,285.09 L315.68,285.28 L316.34,285.47 L316.99,285.67 L317.65,285.88 L318.30,286.09 L318.96,286.32 L319.62,286.55 L320.27,286.79 L320.93,287.03 L321.58,287.27 L322.24,287.53 L322.90,287.78 L323.55,288.04 L324.21,288.30 L324.86,288.56 L325.52,288.83 L326.18,289.09 L326.83,289.36 L327.49,289.62 L328.14,289.89 L328.80,290.15 L329.46,290.42 L330.11,290.68 L330.77,290.94 L331.42,291.19 L332.08,291.45 L332.74,291.70 L333.39,291.95 L334.05,292.19 L334.70,292.43 L335.36,292.66 L336.02,292.89 L336.67,293.11 L337.33,293.33 L337.98,293.55 L338.64,293.76 L339.30,293.96 L339.95,294.16 L340.61,294.35 L341.26,294.53 L341.92,294.71 L342.58,294.89 L343.23,295.06 L343.89,295.22 L344.54,295.37 L345.20,295.52 L345.86,295.67 L346.51,295.81 L347.17,295.94 L347.82,296.07 L348.48,296.19 L349.14,296.30 L349.79,296.42 L350.45,296.52 L351.10,296.62 L351.76,296.72 L352.42,296.81 L353.07,296.90 L353.73,296.98 L354.38,297.05 L355.04,297.13 L355.70,297.20 L356.35,297.26 L357.01,297.32 L357.66,297.38 L358.32,297.44 L358.98,297.49 L359.63,297.54 L360.29,297.58 L360.94,297.63 L361.60,297.66 L362.26,297.70 L362.91,297.74 L363.57,297.77 L364.22,297.80 L364.88,297.83 L365.54,297.85 L366.19,297.88 L366.85,297.90 L367.50,297.92 L368.16,297.94 L368.82,297.96 L369.47,297.97 L370.13,297.99 L370.78,298.00 L371.44,298.02 L372.10,298.03 L372.75,298.04 L373.41,298.05 L374.06,298.06 L374.72,298.07 L375.38,298.07 L376.03,298.08 L376.69,298.09 L377.34,298.09 L378.00,298.10 L378.66,298.10 L379.31,298.11 L379.97,298.11 L380.62,298.12 L381.28,298.12 L381.94,298.12 L382.59,298.13 L383.25,298.13 L383.90,298.13 L384.56,298.13 L385.22,298.13 L385.87,298.14 L386.53,298.14 L387.18,298.14 L387.84,298.14 L388.50,298.14 L389.15,298.14 L389.81,298.14 L390.46,298.14 L391.12,298.14 L391.78,298.15 L392.43,298.15 L393.09,298.15 L393.74,298.15 L394.40,298.15 L395.06,298.15 L395.71,298.15 L396.37,298.15 L397.02,298.15 L397.68,298.15 L398.34,298.15 L398.99,298.15 L399.65,298.15 L400.30,298.15 L400.96,298.15 L401.62,298.15 L402.27,298.15 L402.93,298.15 L403.58,298.15 L404.24,298.15 L404.90,298.15 L405.55,298.15 L406.21,298.15 L406.86,298.15 L407.52,298.15 L408.18,298.15 L408.83,298.15 L409.49,298.15 L410.14,298.15 L410.80,298.15 L411.46,298.15 L412.11,298.15 L412.77,298.15 L413.42,298.15 L414.08,298.15 L414.74,298.15 L415.39,298.15 L416.05,298.15 L416.70,298.15 L417.36,298.15 L418.02,298.15 L418.67,298.15 L419.33,298.15 L419.98,298.15 L420.64,298.15 L421.30,298.15 L421.95,298.15 L422.61,298.15 L423.26,298.15 L423.92,298.15 L424.58,298.15 L425.23,298.15 L425.89,298.15 L426.54,298.15 L427.20,298.15 L427.86,298.15 L428.51,298.15 L429.17,298.15 L429.82,298.15 L430.48,298.15 L431.14,298.15 L431.79,298.15 L432.45,298.15 L433.10,298.15 L433.76,298.15 L434.42,298.15 L435.07,298.15 L435.73,298.15 L436.38,298.15 L437.04,298.15 L437.70,298.15 L438.35,298.15 L439.01,298.15 L439.66,298.15 L440.32,298.15 L440.98,298.15 L441.63,298.15 L442.29,298.15 L442.94,298.15 L443.60,298.15 L444.26,298.15 L444.91,298.15 L445.57,298.15 L446.22,298.15 L446.88,298.15 L447.54,298.15 L448.19,298.15 L448.85,298.15 L449.50,298.15 L450.16,298.15 L450.82,298.15 L451.47,298.15 L452.13,298.15 L452.78,298.15 L453.44,298.15 L454.10,298.15 L454.75,298.15 L455.41,298.15 L456.06,298.15 L456.72,298.15 L457.38,298.15 L458.03,298.15 L458.69,298.15 L459.34,298.15 L460.00,298.15 L460.66,298.15 L461.31,298.15 L461.97,298.15 L462.62,298.15 L463.28,298.15 L463.94,298.15 L464.59,298.15 L465.25,298.15 L465.90,298.15 L466.56,298.15 L467.22,298.15 L467.87,298.15 L468.53,298.15 L469.18,298.15 L469.84,298.15 L470.50,298.15 L471.15,298.15 L471.81,298.15 L472.46,298.15 L473.12,298.15 L473.78,298.15 L474.43,298.15 L475.09,298.15 L475.74,298.15 L476.40,298.15 L477.06,298.15 L477.71,298.15 L478.37,298.15 L479.02,298.15 L479.68,298.15 L480.34,298.15 L480.99,298.15 L481.65,298.15 L482.30,298.15 L482.96,298.15 L483.62,298.15 L484.27,298.15 L484.93,298.15 L485.58,298.15 L486.24,298.15 L486.90,298.15 L487.55,298.15 L488.21,298.15 L488.86,298.15 L489.52,298.15 L490.18,298.15 L490.83,298.15 L491.49,298.15 L492.14,298.15 L492.80,298.15 L493.46,298.15 L494.11,298.15 L494.77,298.15 L495.42,298.15 L496.08,298.15 L496.74,298.15 L497.39,298.15 L498.05,298.15 L498.70,298.15 L499.36,298.15 L500.02,298.15 L500.67,298.15 L501.33,298.15 L501.98,298.15 L502.64,298.15 L503.30,298.15 L503.95,298.15 L504.61,298.15 L505.26,298.15 L505.92,298.15 L506.58,298.15 L507.23,298.15 L507.89,298.15 L508.54,298.15 L509.20,298.15 M115.60,298.15 L116.26,298.15 L116.91,298.15 L117.57,298.15 L118.22,298.15 L118.88,298.15 L119.54,298.15 L120.19,298.15 L120.85,298.15 L121.50,298.15 L122.16,298.15 L122.82,298.15 L123.47,298.15 L124.13,298.15 L124.78,298.15 L125.44,298.15 L126.10,298.15 L126.75,298.15 L127.41,298.15 L128.06,298.15 L128.72,298.15 L129.38,298.15 L130.03,298.15 L130.69,298.15 L131.34,298.15 L132.00,298.15 L132.66,298.15 L133.31,298.15 L133.97,298.15 L134.62,298.15 L135.28,298.15 L135.94,298.15 L136.59,298.15 L137.25,298.15 L137.90,298.15 L138.56,298.15 L139.22,298.15 L139.87,298.15 L140.53,298.15 L141.18,298.15 L141.84,298.15 L142.50,298.15 L143.15,298.15 L143.81,298.15 L144.46,298.15 L145.12,298.15 L145.78,298.15 L146.43,298.15 L147.09,298.15 L147.74,298.15 L148.40,298.15 L149.06,298.15 L149.71,298.15 L150.37,298.15 L151.02,298.15 L151.68,298.15 L152.34,298.15 L152.99,298.15 L153.65,298.15 L154.30,298.15 L154.96,298.15 L155.62,298.15 L156.27,298.15 L156.93,298.15 L157.58,298.15 L158.24,298.15 L158.90,298.15 L159.55,298.15 L160.21,298.15 L160.86,298.15 L161.52,298.15 L162.18,298.15 L162.83,298.15 L163.49,298.15 L164.14,298.15 L164.80,298.15 L165.46,298.15 L166.11,298.15 L166.77,298.15 L167.42,298.15 L168.08,298.15 L168.74,298.15 L169.39,298.15 L170.05,298.15 L170.70,298.15 L171.36,298.15 L172.02,298.15 L172.67,298.15 L173.33,298.15 L173.98,298.15 L174.64,298.15 L175.30,298.15 L175.95,298.15 L176.61,298.15 L177.26,298.15 L177.92,298.15 L178.58,298.15 L179.23,298.15 L179.89,298.15 L180.54,298.15 L181.20,298.15 L181.86,298.15 L182.51,298.15 L183.17,298.15 L183.82,298.15 L184.48,298.15 L185.14,298.15 L185.79,298.15 L186.45,298.15 L187.10,298.15 L187.76,298.15 L188.42,298.15 L189.07,298.15 L189.73,298.15 L190.38,298.15 L191.04,298.15 L191.70,298.15 L192.35,298.15 L193.01,298.15 L193.66,298.15 L194.32,298.15 L194.98,298.15 L195.63,298.15 L196.29,298.15 L196.94,298.15 L197.60,298.15 L198.26,298.15 L198.91,298.15 L199.57,298.15 L200.22,298.15 L200.88,298.15 L201.54,298.15 L202.19,298.15 L202.85,298.15 L203.50,298.15 L204.16,298.15 L204.82,298.15 L205.47,298.15 L206.13,298.15 L206.78,298.15 L207.44,298.15 L208.10,298.15 L208.75,298.15 L209.41,298.15 L210.06,298.15 L210.72,298.15 L211.38,298.15 L212.03,298.15 L212.69,298.15 L213.34,298.15 L214.00,298.15 L214.66,298.15 L215.31,298.15 L215.97,298.15 L216.62,298.15 L217.28,298.15 L217.94,298.15 L218.59,298.15 L219.25,298.15 L219.90,298.15 L220.56,298.15 L221.22,298.15 L221.87,298.15 L222.53,298.15 L223.18,298.15 L223.84,298.15 L224.50,298.15 L225.15,298.15 L225.81,298.15 L226.46,298.15 L227.12,298.15 L227.78,298.15 L228.43,298.15 L229.09,298.15 L229.74,298.15 L230.40,298.15 L231.06,298.15 L231.71,298.15 L232.37,298.15 L233.02,298.15 L233.68,298.15 L234.34,298.15 L234.99,298.15 L235.65,298.15 L236.30,298.15 L236.96,298.15 L237.62,298.15 L238.27,298.15 L238.93,298.15 L239.58,298.15 L240.24,298.15 L240.90,298.15 L241.55,298.15 L242.21,298.15 L242.86,298.15 L243.52,298.15 L244.18,298.15 L244.83,298.15 L245.49,298.15 L246.14,298.15 L246.80,298.15 L247.46,298.15 L248.11,298.15 L248.77,298.15 L249.42,298.15 L250.08,298.15 L250.74,298.15 L251.39,298.15 L252.05,298.15 L252.70,298.15 L253.36,298.15 L254.02,298.14 L254.67,298.14 L255.33,298.14 L255.98,298.14 L256.64,298.14 L257.30,298.14 L257.95,298.14 L258.61,298.14 L259.26,298.14 L259.92,298.14 L260.58,298.14 L261.23,298.14 L261.89,298.14 L262.54,298.14 L263.20,298.14 L263.86,298.13 L264.51,298.13 L265.17,298.13 L265.82,298.13 L266.48,298.13 L267.14,298.13 L267.79,298.13 L268.45,298.12 L269.10,298.12 L269.76,298.12 L270.42,298.12 L271.07,298.11 L271.73,298.11 L272.38,298.11 L273.04,298.11 L273.70,298.10 L274.35,298.10 L275.01,298.10 L275.66,298.09 L276.32,298.09 L276.98,298.09 L277.63,298.08 L278.29,298.08 L278.94,298.07 L279.60,298.07 L280.26,298.06 L280.91,298.05 L281.57,298.05 L282.22,298.04 L282.88,298.04 L283.54,298.03 L284.19,298.02 L284.85,298.01 L285.50,298.00 L286.16,298.00 L286.82,297.99 L287.47,297.98 L288.13,297.97 L288.78,297.96 L289.44,297.94 L290.10,297.93 L290.75,297.92 L291.41,297.91 L292.06,297.89 L292.72,297.88 L293.38,297.86 L294.03,297.85 L294.69,297.83 L295.34,297.81 L296.00,297.80 L296.66,297.78 L297.31,297.76 L297.97,297.74 L298.62,297.72 L299.28,297.69 L299.94,297.67 L300.59,297.65 L301.25,297.62 L301.90,297.60 L302.56,297.57 L303.22,297.54 L303.87,297.51 L304.53,297.48 L305.18,297.45 L305.84,297.42 L306.50,297.39 L307.15,297.35 L307.81,297.32 L308.46,297.28 L309.12,297.24 L309.78,297.20 L310.43,297.16 L311.09,297.12 L311.74,297.07 L312.40,297.03 L313.06,296.98 L313.71,296.94 L314.37,296.89 L315.02,296.84 L315.68,296.79 L316.34,296.74 L316.99,296.68 L317.65,296.63 L318.30,296.57 L318.96,296.51 L319.62,296.45 L320.27,296.39 L320.93,296.33 L321.58,296.27 L322.24,296.20 L322.90,296.14 L323.55,296.07 L324.21,296.00 L324.86,295.93 L325.52,295.86 L326.18,295.79 L326.83,295.71 L327.49,295.64 L328.14,295.56 L328.80,295.49 L329.46,295.41 L330.11,295.33 L330.77,295.25 L331.42,295.17 L332.08,295.09 L332.74,295.01 L333.39,294.93 L334.05,294.84 L334.70,294.76 L335.36,294.68 L336.02,294.59 L336.67,294.51 L337.33,294.42 L337.98,294.33 L338.64,294.25 L339.30,294.16 L339.95,294.08 L340.61,293.99 L341.26,293.91 L341.92,293.82 L342.58,293.73 L343.23,293.65 L343.89,293.56 L344.54,293.48 L345.20,293.40 L345.86,293.32 L346.51,293.23 L347.17,293.15 L347.82,293.07 L348.48,292.99 L349.14,292.92 L349.79,292.84 L350.45,292.77 L351.10,292.69 L351.76,292.62 L352.42,292.55 L353.07,292.48 L353.73,292.41 L354.38,292.35 L355.04,292.29 L355.70,292.23 L356.35,292.17 L357.01,292.11 L357.66,292.06 L358.32,292.00 L358.98,291.95 L359.63,291.91 L360.29,291.86 L360.94,291.82 L361.60,291.78 L362.26,291.74 L362.91,291.71 L363.57,291.68 L364.22,291.65 L364.88,291.62 L365.54,291.60 L366.19,291.58 L366.85,291.57 L367.50,291.55 L368.16,291.54 L368.82,291.53 L369.47,291.53 L370.13,291.53 L370.78,291.53 L371.44,291.53 L372.10,291.54 L372.75,291.55 L373.41,291.56 L374.06,291.58 L374.72,291.60 L375.38,291.62 L376.03,291.65 L376.69,291.68 L377.34,291.71 L378.00,291.74 L378.66,291.78 L379.31,291.82 L379.97,291.86 L380.62,291.90 L381.28,291.95 L381.94,292.00 L382.59,292.05 L383.25,292.10 L383.90,292.16 L384.56,292.22 L385.22,292.28 L385.87,292.34 L386.53,292.41 L387.18,292.47 L387.84,292.54 L388.50,292.61 L389.15,292.68 L389.81,292.76 L390.46,292.83 L391.12,292.91 L391.78,292.99 L392.43,293.06 L393.09,293.14 L393.74,293.23 L394.40,293.31 L395.06,293.39 L395.71,293.47 L396.37,293.56 L397.02,293.64 L397.68,293.73 L398.34,293.81 L398.99,293.90 L399.65,293.98 L400.30,294.07 L400.96,294.15 L401.62,294.24 L402.27,294.33 L402.93,294.41 L403.58,294.50 L404.24,294.58 L404.90,294.67 L405.55,294.75 L406.21,294.84 L406.86,294.92 L407.52,295.00 L408.18,295.08 L408.83,295.16 L409.49,295.24 L410.14,295.32 L410.80,295.40 L411.46,295.48 L412.11,295.56 L412.77,295.63 L413.42,295.71 L414.08,295.78 L414.74,295.85 L415.39,295.92 L416.05,295.99 L416.70,296.06 L417.36,296.13 L418.02,296.19 L418.67,296.26 L419.33,296.32 L419.98,296.39 L420.64,296.45 L421.30,296.51 L421.95,296.56 L422.61,296.62 L423.26,296.68 L423.92,296.73 L424.58,296.78 L425.23,296.83 L425.89,296.88 L426.54,296.93 L427.20,296.98 L427.86,297.03 L428.51,297.07 L429.17,297.11 L429.82,297.16 L430.48,297.20 L431.14,297.24 L431.79,297.27 L432.45,297.31 L433.10,297.35 L433.76,297.38 L434.42,297.42 L435.07,297.45 L435.73,297.48 L436.38,297.51 L437.04,297.54 L437.70,297.57 L438.35,297.59 L439.01,297.62 L439.66,297.64 L440.32,297.67 L440.98,297.69 L441.63,297.71 L442.29,297.74 L442.94,297.76 L443.60,297.78 L444.26,297.79 L444.91,297.81 L445.57,297.83 L446.22,297.85 L446.88,297.86 L447.54,297.88 L448.19,297.89 L448.85,297.91 L449.50,297.92 L450.16,297.93 L450.82,297.94 L451.47,297.95 L452.13,297.97 L452.78,297.98 L453.44,297.99 L454.10,297.99 L454.75,298.00 L455.41,298.01 L456.06,298.02 L456.72,298.03 L457.38,298.03 L458.03,298.04 L458.69,298.05 L459.34,298.05 L460.00,298.06 L460.66,298.07 L461.31,298.07 L461.97,298.08 L462.62,298.08 L463.28,298.08 L463.94,298.09 L464.59,298.09 L465.25,298.10 L465.90,298.10 L466.56,298.10 L467.22,298.11 L467.87,298.11 L468.53,298.11 L469.18,298.11 L469.84,298.12 L470.50,298.12 L471.15,298.12 L471.81,298.12 L472.46,298.12 L473.12,298.13 L473.78,298.13 L474.43,298.13 L475.09,298.13 L475.74,298.13 L476.40,298.13 L477.06,298.13 L477.71,298.14 L478.37,298.14 L479.02,298.14 L479.68,298.14 L480.34,298.14 L480.99,298.14 L481.65,298.14 L482.30,298.14 L482.96,298.14 L483.62,298.14 L484.27,298.14 L484.93,298.14 L485.58,298.14 L486.24,298.14 L486.90,298.15 L487.55,298.15 L488.21,298.15 L488.86,298.15 L489.52,298.15 L490.18,298.15 L490.83,298.15 L491.49,298.15 L492.14,298.15 L492.80,298.15 L493.46,298.15 L494.11,298.15 L494.77,298.15 L495.42,298.15 L496.08,298.15 L496.74,298.15 L497.39,298.15 L498.05,298.15 L498.70,298.15 L499.36,298.15 L500.02,298.15 L500.67,298.15 L501.33,298.15 L501.98,298.15 L502.64,298.15 L503.30,298.15 L503.95,298.15 L504.61,298.15 L505.26,298.15 L505.92,298.15 L506.58,298.15 L507.23,298.15 L507.89,298.15 L508.54,298.15 L509.20,298.15 M115.60,298.15 L116.26,298.15 L116.91,298.15 L117.57,298.15 L118.22,298.15 L118.88,298.15 L119.54,298.15 L120.19,298.15 L120.85,298.15 L121.50,298.15 L122.16,298.15 L122.82,298.15 L123.47,298.15 L124.13,298.15 L124.78,298.15 L125.44,298.15 L126.10,298.15 L126.75,298.15 L127.41,298.15 L128.06,298.15 L128.72,298.15 L129.38,298.15 L130.03,298.15 L130.69,298.15 L131.34,298.15 L132.00,298.15 L132.66,298.15 L133.31,298.15 L133.97,298.15 L134.62,298.15 L135.28,298.15 L135.94,298.15 L136.59,298.15 L137.25,298.15 L137.90,298.15 L138.56,298.15 L139.22,298.15 L139.87,298.15 L140.53,298.15 L141.18,298.15 L141.84,298.15 L142.50,298.15 L143.15,298.15 L143.81,298.15 L144.46,298.15 L145.12,298.15 L145.78,298.15 L146.43,298.15 L147.09,298.15 L147.74,298.15 L148.40,298.15 L149.06,298.15 L149.71,298.15 L150.37,298.15 L151.02,298.15 L151.68,298.15 L152.34,298.15 L152.99,298.15 L153.65,298.15 L154.30,298.15 L154.96,298.15 L155.62,298.15 L156.27,298.15 L156.93,298.15 L157.58,298.15 L158.24,298.15 L158.90,298.15 L159.55,298.15 L160.21,298.15 L160.86,298.15 L161.52,298.15 L162.18,298.15 L162.83,298.15 L163.49,298.15 L164.14,298.15 L164.80,298.15 L165.46,298.15 L166.11,298.15 L166.77,298.15 L167.42,298.15 L168.08,298.15 L168.74,298.15 L169.39,298.15 L170.05,298.15 L170.70,298.15 L171.36,298.15 L172.02,298.15 L172.67,298.15 L173.33,298.15 L173.98,298.15 L174.64,298.15 L175.30,298.15 L175.95,298.15 L176.61,298.15 L177.26,298.15 L177.92,298.15 L178.58,298.15 L179.23,298.15 L179.89,298.15 L180.54,298.15 L181.20,298.15 L181.86,298.15 L182.51,298.15 L183.17,298.15 L183.82,298.15 L184.48,298.15 L185.14,298.15 L185.79,298.15 L186.45,298.15 L187.10,298.15 L187.76,298.15 L188.42,298.15 L189.07,298.15 L189.73,298.15 L190.38,298.15 L191.04,298.15 L191.70,298.15 L192.35,298.15 L193.01,298.15 L193.66,298.15 L194.32,298.15 L194.98,298.15 L195.63,298.15 L196.29,298.15 L196.94,298.15 L197.60,298.15 L198.26,298.15 L198.91,298.15 L199.57,298.15 L200.22,298.15 L200.88,298.15 L201.54,298.15 L202.19,298.15 L202.85,298.15 L203.50,298.15 L204.16,298.15 L204.82,298.15 L205.47,298.15 L206.13,298.15 L206.78,298.15 L207.44,298.15 L208.10,298.15 L208.75,298.15 L209.41,298.15 L210.06,298.15 L210.72,298.15 L211.38,298.15 L212.03,298.15 L212.69,298.15 L213.34,298.15 L214.00,298.15 L214.66,298.15 L215.31,298.15 L215.97,298.15 L216.62,298.15 L217.28,298.15 L217.94,298.15 L218.59,298.15 L219.25,298.15 L219.90,298.15 L220.56,298.15 L221.22,298.15 L221.87,298.15 L222.53,298.15 L223.18,298.15 L223.84,298.15 L224.50,298.15 L225.15,298.15 L225.81,298.15 L226.46,298.15 L227.12,298.15 L227.78,298.15 L228.43,298.15 L229.09,298.15 L229.74,298.15 L230.40,298.15 L231.06,298.15 L231.71,298.15 L232.37,298.15 L233.02,298.15 L233.68,298.15 L234.34,298.15 L234.99,298.15 L235.65,298.15 L236.30,298.15 L236.96,298.15 L237.62,298.15 L238.27,298.15 L238.93,298.15 L239.58,298.15 L240.24,298.15 L240.90,298.15 L241.55,298.15 L242.21,298.15 L242.86,298.15 L243.52,298.15 L244.18,298.15 L244.83,298.15 L245.49,298.15 L246.14,298.15 L246.80,298.15 L247.46,298.15 L248.11,298.15 L248.77,298.15 L249.42,298.15 L250.08,298.15 L250.74,298.15 L251.39,298.15 L252.05,298.15 L252.70,298.15 L253.36,298.15 L254.02,298.15 L254.67,298.15 L255.33,298.15 L255.98,298.15 L256.64,298.15 L257.30,298.15 L257.95,298.15 L258.61,298.15 L259.26,298.15 L259.92,298.15 L260.58,298.15 L261.23,298.15 L261.89,298.15 L262.54,298.15 L263.20,298.15 L263.86,298.15 L264.51,298.15 L265.17,298.15 L265.82,298.15 L266.48,298.15 L267.14,298.15 L267.79,298.15 L268.45,298.15 L269.10,298.15 L269.76,298.15 L270.42,298.15 L271.07,298.15 L271.73,298.15 L272.38,298.15 L273.04,298.15 L273.70,298.15 L274.35,298.15 L275.01,298.15 L275.66,298.15 L276.32,298.15 L276.98,298.15 L277.63,298.15 L278.29,298.15 L278.94,298.15 L279.60,298.15 L280.26,298.15 L280.91,298.15 L281.57,298.15 L282.22,298.15 L282.88,298.15 L283.54,298.15 L284.19,298.15 L284.85,298.15 L285.50,298.15 L286.16,298.15 L286.82,298.15 L287.47,298.15 L288.13,298.15 L288.78,298.15 L289.44,298.15 L290.10,298.15 L290.75,298.15 L291.41,298.15 L292.06,298.15 L292.72,298.15 L293.38,298.15 L294.03,298.15 L294.69,298.15 L295.34,298.15 L296.00,298.15 L296.66,298.15 L297.31,298.15 L297.97,298.15 L298.62,298.15 L299.28,298.15 L299.94,298.15 L300.59,298.15 L301.25,298.15 L301.90,298.15 L302.56,298.15 L303.22,298.15 L303.87,298.15 L304.53,298.15 L305.18,298.15 L305.84,298.15 L306.50,298.15 L307.15,298.15 L307.81,298.15 L308.46,298.15 L309.12,298.15 L309.78,298.15 L310.43,298.15 L311.09,298.15 L311.74,298.15 L312.40,298.15 L313.06,298.15 L313.71,298.15 L314.37,298.15 L315.02,298.15 L315.68,298.15 L316.34,298.15 L316.99,298.15 L317.65,298.15 L318.30,298.15 L318.96,298.15 L319.62,298.15 L320.27,298.15 L320.93,298.15 L321.58,298.15 L322.24,298.15 L322.90,298.15 L323.55,298.15 L324.21,298.15 L324.86,298.15 L325.52,298.15 L326.18,298.15 L326.83,298.14 L327.49,298.14 L328.14,298.14 L328.80,298.14 L329.46,298.14 L330.11,298.14 L330.77,298.14 L331.42,298.14 L332.08,298.14 L332.74,298.14 L333.39,298.14 L334.05,298.14 L334.70,298.14 L335.36,298.14 L336.02,298.14 L336.67,298.13 L337.33,298.13 L337.98,298.13 L338.64,298.13 L339.30,298.13 L339.95,298.13 L340.61,298.13 L341.26,298.12 L341.92,298.12 L342.58,298.12 L343.23,298.12 L343.89,298.12 L344.54,298.11 L345.20,298.11 L345.86,298.11 L346.51,298.11 L347.17,298.10 L347.82,298.10 L348.48,298.10 L349.14,298.09 L349.79,298.09 L350.45,298.09 L351.10,298.08 L351.76,298.08 L352.42,298.08 L353.07,298.07 L353.73,298.07 L354.38,298.06 L355.04,298.06 L355.70,298.05 L356.35,298.04 L357.01,298.04 L357.66,298.03 L358.32,298.02 L358.98,298.02 L359.63,298.01 L360.29,298.00 L360.94,297.99 L361.60,297.98 L362.26,297.97 L362.91,297.97 L363.57,297.96 L364.22,297.94 L364.88,297.93 L365.54,297.92 L366.19,297.91 L366.85,297.90 L367.50,297.88 L368.16,297.87 L368.82,297.86 L369.47,297.84 L370.13,297.83 L370.78,297.81 L371.44,297.79 L372.10,297.78 L372.75,297.76 L373.41,297.74 L374.06,297.72 L374.72,297.70 L375.38,297.68 L376.03,297.66 L376.69,297.64 L377.34,297.62 L378.00,297.59 L378.66,297.57 L379.31,297.54 L379.97,297.52 L380.62,297.49 L381.28,297.46 L381.94,297.43 L382.59,297.40 L383.25,297.37 L383.90,297.34 L384.56,297.31 L385.22,297.28 L385.87,297.24 L386.53,297.21 L387.18,297.17 L387.84,297.14 L388.50,297.10 L389.15,297.06 L389.81,297.02 L390.46,296.98 L391.12,296.94 L391.78,296.90 L392.43,296.85 L393.09,296.81 L393.74,296.76 L394.40,296.72 L395.06,296.67 L395.71,296.62 L396.37,296.58 L397.02,296.53 L397.68,296.48 L398.34,296.43 L398.99,296.38 L399.65,296.32 L400.30,296.27 L400.96,296.22 L401.62,296.16 L402.27,296.11 L402.93,296.05 L403.58,296.00 L404.24,295.94 L404.90,295.88 L405.55,295.83 L406.21,295.77 L406.86,295.71 L407.52,295.65 L408.18,295.59 L408.83,295.53 L409.49,295.47 L410.14,295.41 L410.80,295.36 L411.46,295.30 L412.11,295.24 L412.77,295.18 L413.42,295.12 L414.08,295.06 L414.74,295.00 L415.39,294.94 L416.05,294.88 L416.70,294.82 L417.36,294.77 L418.02,294.71 L418.67,294.65 L419.33,294.60 L419.98,294.54 L420.64,294.49 L421.30,294.43 L421.95,294.38 L422.61,294.33 L423.26,294.27 L423.92,294.22 L424.58,294.18 L425.23,294.13 L425.89,294.08 L426.54,294.04 L427.20,293.99 L427.86,293.95 L428.51,293.91 L429.17,293.87 L429.82,293.83 L430.48,293.79 L431.14,293.76 L431.79,293.72 L432.45,293.69 L433.10,293.66 L433.76,293.63 L434.42,293.61 L435.07,293.58 L435.73,293.56 L436.38,293.54 L437.04,293.52 L437.70,293.50 L438.35,293.48 L439.01,293.47 L439.66,293.46 L440.32,293.45 L440.98,293.44 L441.63,293.44 L442.29,293.44 L442.94,293.43 L443.60,293.44 L444.26,293.44 L444.91,293.44 L445.57,293.45 L446.22,293.46 L446.88,293.47 L447.54,293.48 L448.19,293.50 L448.85,293.52 L449.50,293.53 L450.16,293.56 L450.82,293.58 L451.47,293.60 L452.13,293.63 L452.78,293.66 L453.44,293.69 L454.10,293.72 L454.75,293.75 L455.41,293.79 L456.06,293.83 L456.72,293.86 L457.38,293.90 L458.03,293.94 L458.69,293.99 L459.34,294.03 L460.00,294.08 L460.66,294.12 L461.31,294.17 L461.97,294.22 L462.62,294.27 L463.28,294.32 L463.94,294.37 L464.59,294.43 L465.25,294.48 L465.90,294.53 L466.56,294.59 L467.22,294.65 L467.87,294.70 L468.53,294.76 L469.18,294.82 L469.84,294.88 L470.50,294.93 L471.15,294.99 L471.81,295.05 L472.46,295.11 L473.12,295.17 L473.78,295.23 L474.43,295.29 L475.09,295.35 L475.74,295.41 L476.40,295.47 L477.06,295.53 L477.71,295.59 L478.37,295.65 L479.02,295.70 L479.68,295.76 L480.34,295.82 L480.99,295.88 L481.65,295.94 L482.30,295.99 L482.96,296.05 L483.62,296.10 L484.27,296.16 L484.93,296.21 L485.58,296.27 L486.24,296.32 L486.90,296.37 L487.55,296.42 L488.21,296.47 L488.86,296.52 L489.52,296.57 L490.18,296.62 L490.83,296.67 L491.49,296.71 L492.14,296.76 L492.80,296.80 L493.46,296.85 L494.11,296.89 L494.77,296.93 L495.42,296.98 L496.08,297.02 L496.74,297.06 L497.39,297.09 L498.05,297.13 L498.70,297.17 L499.36,297.20 L500.02,297.24 L500.67,297.27 L501.33,297.31 L501.98,297.34 L502.64,297.37 L503.30,297.40 L503.95,297.43 L504.61,297.46 L505.26,297.49 L505.92,297.51 L506.58,297.54 L507.23,297.56 L507.89,297.59 L508.54,297.61 L509.20,297.64" fill="none" stroke="#78b3e0" stroke-opacity="0.72" stroke-width="1.2" stroke-linejoin="round"/>
<rect x="82.7" y="8.2" width="459.8" height="302.4" fill="none" stroke="#111" stroke-width="1.7"/>
<line x1="74.7" y1="298.00" x2="82.7" y2="298.00" stroke="#111" stroke-width="1.7"/>
<text transform="translate(68.3,302.7)" text-anchor="end" font-size="15.8" style="font-family:'Liberation Serif','Times New Roman',serif" fill="#111" stroke="#111" stroke-width="0.26">0</text>
<line x1="78.2" y1="272.82" x2="82.7" y2="272.82" stroke="#111" stroke-width="1.7"/>
<line x1="74.7" y1="247.64" x2="82.7" y2="247.64" stroke="#111" stroke-width="1.7"/>
<text transform="translate(68.3,252.34)" text-anchor="end" font-size="15.8" style="font-family:'Liberation Serif','Times New Roman',serif" fill="#111" stroke="#111" stroke-width="0.26">4,000</text>
<line x1="78.2" y1="222.46" x2="82.7" y2="222.46" stroke="#111" stroke-width="1.7"/>
<line x1="74.7" y1="197.28" x2="82.7" y2="197.28" stroke="#111" stroke-width="1.7"/>
<text transform="translate(68.3,201.98)" text-anchor="end" font-size="15.8" style="font-family:'Liberation Serif','Times New Roman',serif" fill="#111" stroke="#111" stroke-width="0.26">8,000</text>
<line x1="78.2" y1="172.10" x2="82.7" y2="172.10" stroke="#111" stroke-width="1.7"/>
<line x1="74.7" y1="146.92" x2="82.7" y2="146.92" stroke="#111" stroke-width="1.7"/>
<text transform="translate(68.3,151.62)" text-anchor="end" font-size="15.8" style="font-family:'Liberation Serif','Times New Roman',serif" fill="#111" stroke="#111" stroke-width="0.26">12,000</text>
<line x1="78.2" y1="121.74" x2="82.7" y2="121.74" stroke="#111" stroke-width="1.7"/>
<line x1="74.7" y1="96.56" x2="82.7" y2="96.56" stroke="#111" stroke-width="1.7"/>
<text transform="translate(68.3,101.26)" text-anchor="end" font-size="15.8" style="font-family:'Liberation Serif','Times New Roman',serif" fill="#111" stroke="#111" stroke-width="0.26">16,000</text>
<line x1="78.2" y1="71.38" x2="82.7" y2="71.38" stroke="#111" stroke-width="1.7"/>
<line x1="74.7" y1="46.20" x2="82.7" y2="46.20" stroke="#111" stroke-width="1.7"/>
<text transform="translate(68.3,50.9)" text-anchor="end" font-size="15.8" style="font-family:'Liberation Serif','Times New Roman',serif" fill="#111" stroke="#111" stroke-width="0.26">20,000</text>
<line x1="78.2" y1="21.02" x2="82.7" y2="21.02" stroke="#111" stroke-width="1.7"/>
<line x1="82.76" y1="310.7" x2="82.76" y2="315.2" stroke="#111" stroke-width="1.7"/>
<line x1="115.60" y1="310.7" x2="115.60" y2="318.7" stroke="#111" stroke-width="1.7"/>
<text transform="translate(115.6,336.3)" text-anchor="middle" font-size="15.8" style="font-family:'Liberation Serif','Times New Roman',serif" fill="#111" stroke="#111" stroke-width="0.26">280</text>
<line x1="148.44" y1="310.7" x2="148.44" y2="315.2" stroke="#111" stroke-width="1.7"/>
<line x1="181.27" y1="310.7" x2="181.27" y2="318.7" stroke="#111" stroke-width="1.7"/>
<text transform="translate(181.27,336.3)" text-anchor="middle" font-size="15.8" style="font-family:'Liberation Serif','Times New Roman',serif" fill="#111" stroke="#111" stroke-width="0.26">282</text>
<line x1="214.11" y1="310.7" x2="214.11" y2="315.2" stroke="#111" stroke-width="1.7"/>
<line x1="246.95" y1="310.7" x2="246.95" y2="318.7" stroke="#111" stroke-width="1.7"/>
<text transform="translate(246.95,336.3)" text-anchor="middle" font-size="15.8" style="font-family:'Liberation Serif','Times New Roman',serif" fill="#111" stroke="#111" stroke-width="0.26">284</text>
<line x1="279.79" y1="310.7" x2="279.79" y2="315.2" stroke="#111" stroke-width="1.7"/>
<line x1="312.63" y1="310.7" x2="312.63" y2="318.7" stroke="#111" stroke-width="1.7"/>
<text transform="translate(312.63,336.3)" text-anchor="middle" font-size="15.8" style="font-family:'Liberation Serif','Times New Roman',serif" fill="#111" stroke="#111" stroke-width="0.26">286</text>
<line x1="345.46" y1="310.7" x2="345.46" y2="315.2" stroke="#111" stroke-width="1.7"/>
<line x1="378.30" y1="310.7" x2="378.30" y2="318.7" stroke="#111" stroke-width="1.7"/>
<text transform="translate(378.3,336.3)" text-anchor="middle" font-size="15.8" style="font-family:'Liberation Serif','Times New Roman',serif" fill="#111" stroke="#111" stroke-width="0.26">288</text>
<line x1="411.14" y1="310.7" x2="411.14" y2="315.2" stroke="#111" stroke-width="1.7"/>
<line x1="443.98" y1="310.7" x2="443.98" y2="318.7" stroke="#111" stroke-width="1.7"/>
<text transform="translate(443.98,336.3)" text-anchor="middle" font-size="15.8" style="font-family:'Liberation Serif','Times New Roman',serif" fill="#111" stroke="#111" stroke-width="0.26">290</text>
<line x1="476.82" y1="310.7" x2="476.82" y2="315.2" stroke="#111" stroke-width="1.7"/>
<line x1="509.65" y1="310.7" x2="509.65" y2="318.7" stroke="#111" stroke-width="1.7"/>
<text transform="translate(509.65,336.3)" text-anchor="middle" font-size="15.8" style="font-family:'Liberation Serif','Times New Roman',serif" fill="#111" stroke="#111" stroke-width="0.26">292</text>
<line x1="542.49" y1="310.7" x2="542.49" y2="315.2" stroke="#111" stroke-width="1.7"/>
<text transform="translate(323.1,358.4)" text-anchor="middle" font-size="17.6" style="font-family:'Liberation Serif','Times New Roman',serif" fill="#111" stroke="#111" stroke-width="0.26">Binding energy / eV</text>
<text transform="translate(22.3,158.7) rotate(-90)" text-anchor="middle" font-size="17.9" style="font-family:'Liberation Serif','Times New Roman',serif" fill="#111" stroke="#111" stroke-width="0.26">Counts / s</text>
<circle cx="392.7" cy="19.3" r="2.45" fill="#4a4a4a"/>
<circle cx="401.6" cy="19.3" r="2.45" fill="#4a4a4a"/>
<circle cx="410.5" cy="19.3" r="2.45" fill="#4a4a4a"/>
<circle cx="419.4" cy="19.3" r="2.45" fill="#4a4a4a"/>
<line x1="391.7" y1="36.5" x2="424.8" y2="36.5" stroke="#f77373" stroke-width="1.9"/>
<line x1="391.7" y1="54.3" x2="424.8" y2="54.3" stroke="#78b3e0" stroke-opacity="0.75" stroke-width="1.4"/>
<text transform="translate(428.5,24.2)" font-size="14" style="font-family:'Liberation Serif','Times New Roman',serif" fill="#111" stroke="#111" stroke-width="0.26">Experimental curve</text>
<text transform="translate(428.5,41.2)" font-size="14" style="font-family:'Liberation Serif','Times New Roman',serif" fill="#111" stroke="#111" stroke-width="0.26">Fitting curve</text>
<text transform="translate(428.5,58.5)" font-size="14" style="font-family:'Liberation Serif','Times New Roman',serif" fill="#111" stroke="#111" stroke-width="0.26">Sub-peak</text>
<text transform="translate(357.5,101.9)" font-size="14.2" style="font-family:'Liberation Serif','Times New Roman',serif" fill="#111" stroke="#111" stroke-width="0.26">Confidence Coefficient = 0.999</text>
<text transform="translate(481.3,128)" font-size="14" style="font-family:'Liberation Serif','Times New Roman',serif" fill="#111" stroke="#111" stroke-width="0.26">Sample 9</text>
<text transform="translate(272.2,90.4)" font-size="14" style="font-family:'Liberation Serif','Times New Roman',serif" fill="#111" stroke="#111" stroke-width="0.26">C=C vs CH</text>
<text transform="translate(306.6,221.8)" font-size="14" style="font-family:'Liberation Serif','Times New Roman',serif" fill="#111" stroke="#111" stroke-width="0.26">-C-O</text>
<text transform="translate(342,249.5)" font-size="14" style="font-family:'Liberation Serif','Times New Roman',serif" fill="#111" stroke="#111" stroke-width="0.26">-C=O</text>
<text transform="translate(378.8,257.2)" font-size="14" style="font-family:'Liberation Serif','Times New Roman',serif" fill="#111" stroke="#111" stroke-width="0.26">-COOH</text>
<text transform="translate(455,256.4)" font-size="14" style="font-family:'Liberation Serif','Times New Roman',serif" fill="#111" stroke="#111" stroke-width="0.26">π-π bonds</text>
<line x1="236.1" y1="133.2" x2="276.94" y2="102.29" stroke="#84bbe3" stroke-width="1.0"/>
<polygon points="284.6,96.5 277.78,105.05 274.52,100.74" fill="#74b0dc"/>
<line x1="274.4" y1="258.6" x2="305.35" y2="230.90" stroke="#84bbe3" stroke-width="1.0"/>
<polygon points="312.5,224.5 306.40,233.58 302.80,229.56" fill="#74b0dc"/>
<line x1="312.8" y1="288" x2="343.72" y2="260.57" stroke="#84bbe3" stroke-width="1.0"/>
<polygon points="350.9,254.2 344.76,263.25 341.18,259.21" fill="#74b0dc"/>
<line x1="364.5" y1="292.9" x2="394.19" y2="266.83" stroke="#84bbe3" stroke-width="1.0"/>
<polygon points="401.4,260.5 395.22,269.52 391.65,265.47" fill="#74b0dc"/>
<line x1="443.6" y1="292.4" x2="471.87" y2="267.71" stroke="#84bbe3" stroke-width="1.0"/>
<polygon points="479.1,261.4 472.89,270.41 469.34,266.34" fill="#74b0dc"/>
</svg>
</body></html>
